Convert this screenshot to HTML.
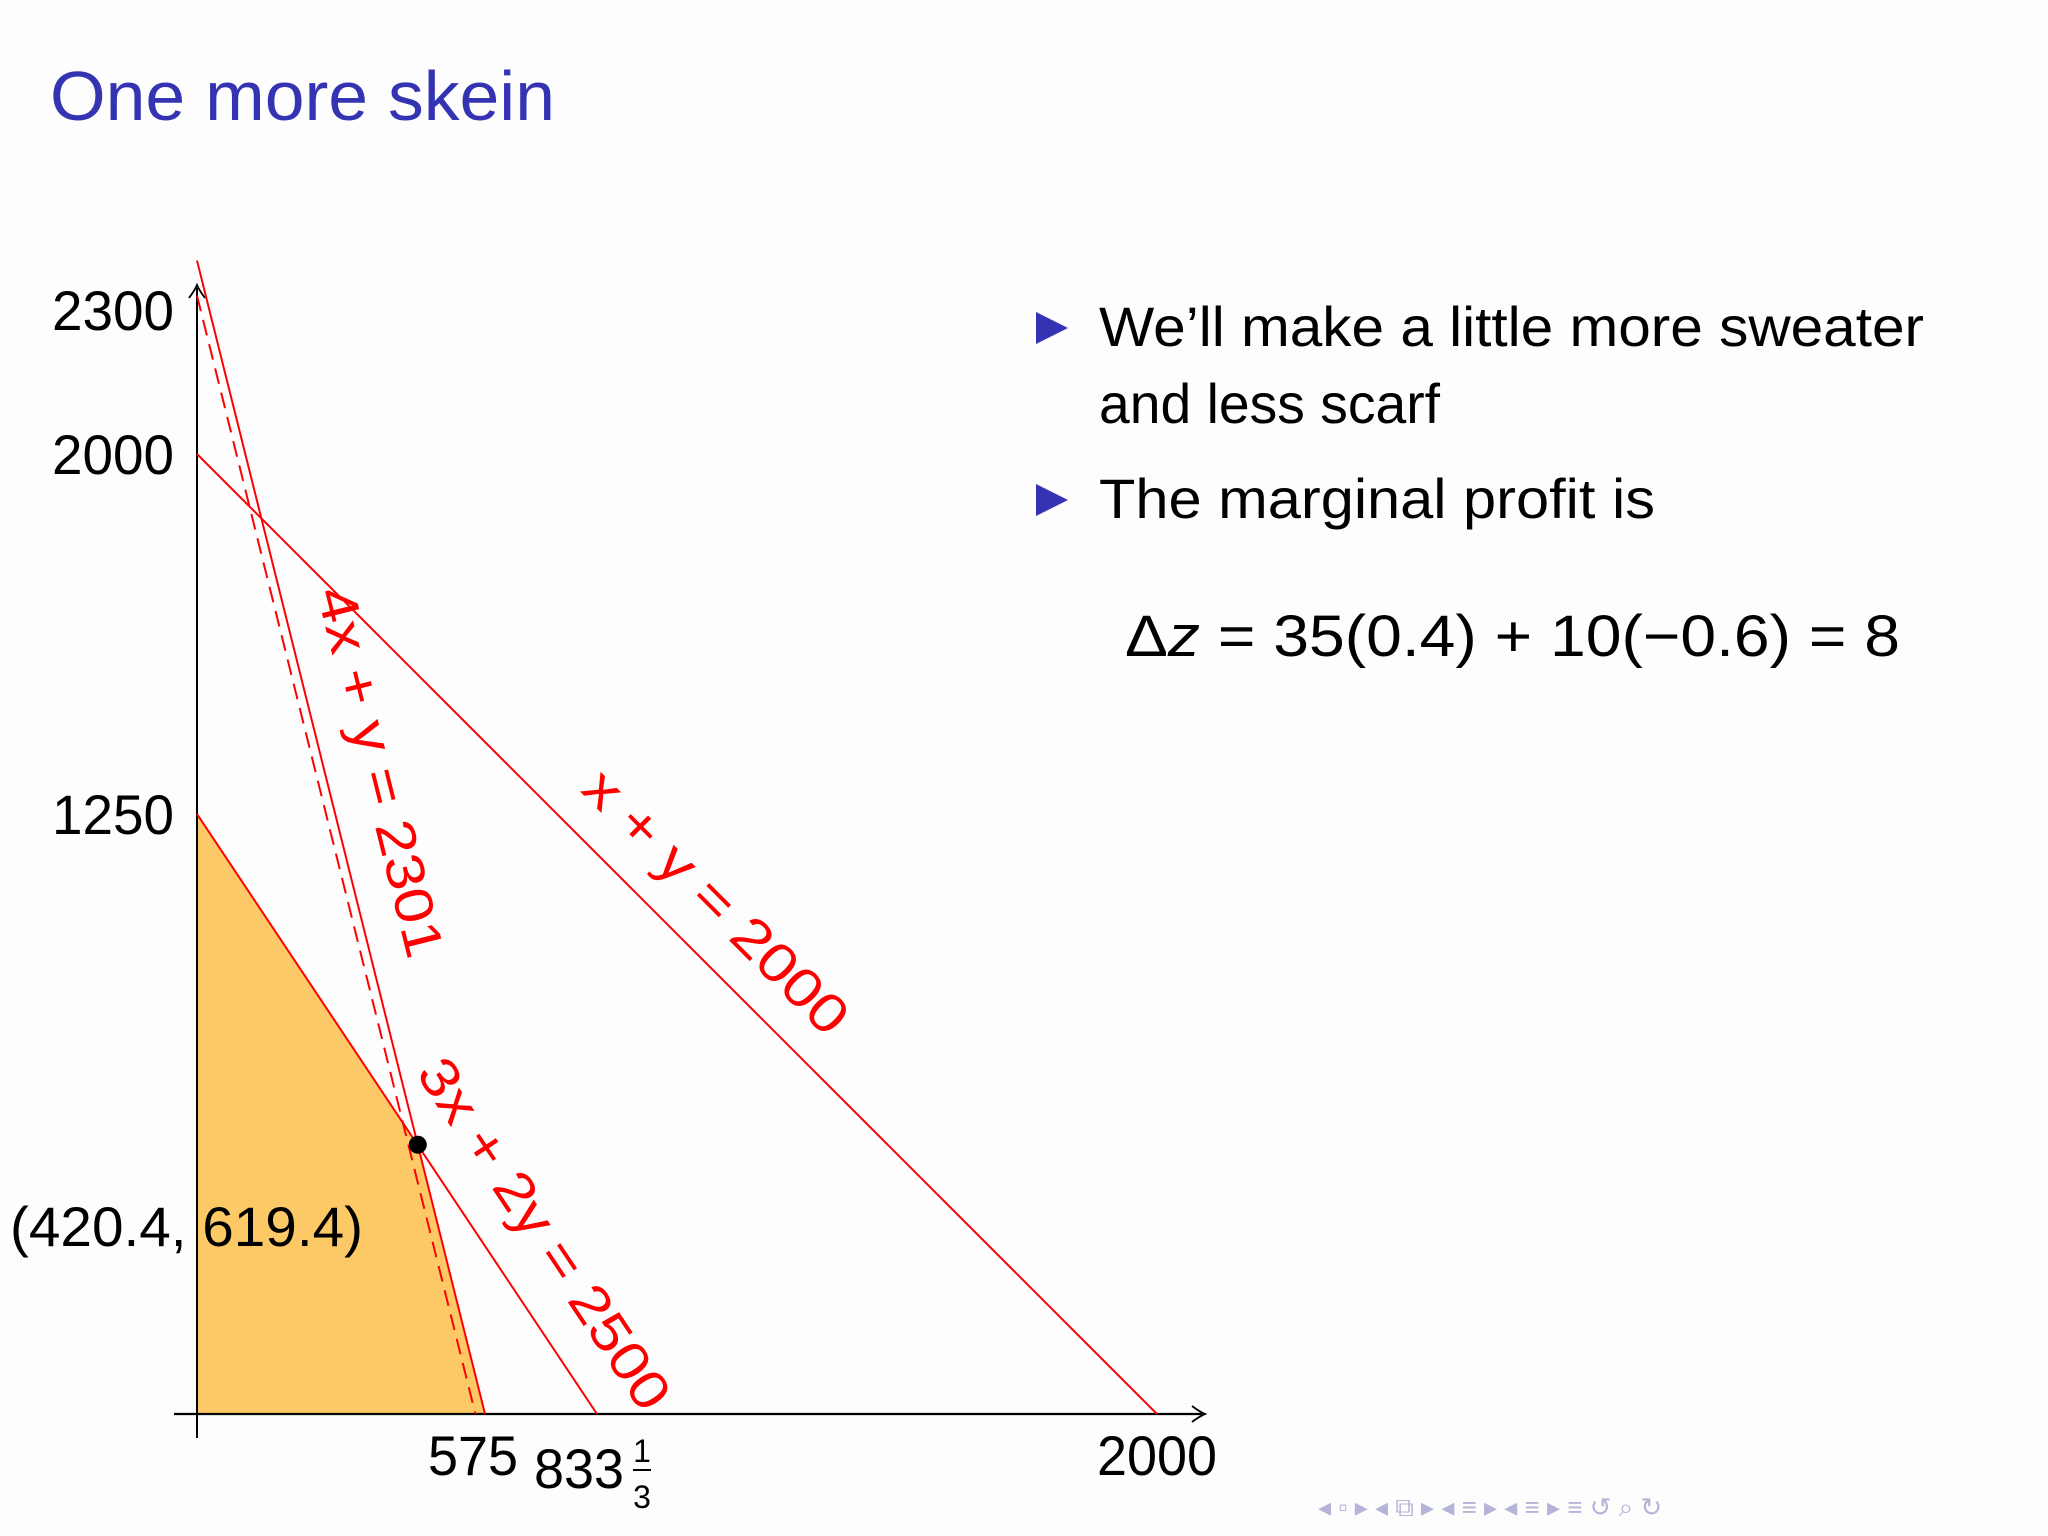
<!DOCTYPE html>
<html><head><meta charset="utf-8"><style>
html,body{margin:0;padding:0;background:#fdfdfe;}
svg{display:block;}
text{font-family:"Liberation Sans","DejaVu Sans",sans-serif;}
</style></head><body>
<svg id="chart" width="2048" height="1536" viewBox="0 0 2048 1536" xmlns="http://www.w3.org/2000/svg">
<text x="50" y="120" font-size="70" fill="#3434b2" textLength="505" lengthAdjust="spacingAndGlyphs">One more skein</text>
<g id="plot"></g>
<g>
<polygon points="1036,312 1068,328 1036,344" fill="#3434b2"/>
<text x="1099" y="346" font-size="56" fill="#000" textLength="825" lengthAdjust="spacingAndGlyphs">We’ll make a little more sweater</text>
<text x="1099" y="423" font-size="56" fill="#000" textLength="341" lengthAdjust="spacingAndGlyphs">and less scarf</text>
<polygon points="1036,484 1068,500 1036,516" fill="#3434b2"/>
<text x="1099" y="518" font-size="56" fill="#000" textLength="556" lengthAdjust="spacingAndGlyphs">The marginal profit is</text>
<text x="1125" y="656" font-size="58" fill="#000" textLength="775" lengthAdjust="spacingAndGlyphs">Δ<tspan font-style="italic">z</tspan> = 35(0.4) + 10(−0.6) = 8</text>
</g>
<g fill="#b4b4d8" font-size="26">
<text x="1318" y="1516">◂ ▫ ▸  ◂ ⧉ ▸  ◂ ≡ ▸  ◂ ≡ ▸   ≡   ↺ ⌕ ↻</text>
</g>
</svg>
<script>
// axis data
const xTicks = [575, 833.33, 2000];
const xTickLabels = ["575", "833", "2000"];
const yTicks = [2300, 2000, 1250];
const yTickLabels = ["2300", "2000", "1250"];
// constraint lines: [x1,y1,x2,y2] in data units
const lineXY = [0, 2000, 2000, 0];
const line3x2y = [0, 1250, 833.33, 0];
const line4x = [0, 2403, 600, 0];
const lineDashed = [0, 2330, 580, 0];
// feasible region vertices
const regionX = [0, 0, 460, 600];
const regionY = [0, 1250, 561, 0];
const optimum = [460, 561];
const optimumLabel = "(420.4, 619.4)";

const X0 = 197, Y0 = 1414, S = 0.48;
const sx = v => X0 + v * S;
const sy = v => Y0 - v * S;
const NS = "http://www.w3.org/2000/svg";
const plot = document.getElementById('plot');
function mk(tag, attrs, parent) {
  const e = document.createElementNS(NS, tag);
  for (const k in attrs) e.setAttribute(k, attrs[k]);
  (parent || plot).appendChild(e);
  return e;
}
// region
const poly = mk('polygon', {points: regionX.map((x, i) => sx(x) + ',' + sy(regionY[i])).join(' '), fill: '#fdc966'});


// axes
const xa = mk('line', {x1: 174, y1: Y0, x2: 1202, y2: Y0, stroke: '#000', 'stroke-width': 2.2});


const xah = mk('path', {d: 'M1192,1406 Q1200,1412 1205,1414 Q1200,1416 1192,1422', fill: 'none', stroke: '#000', 'stroke-width': 1.8});


const ya = mk('line', {x1: X0, y1: 1438, x2: X0, y2: 288, stroke: '#000', 'stroke-width': 2});


const yah = mk('path', {d: 'M189,298 Q195,290 197,285 Q199,290 205,298', fill: 'none', stroke: '#000', 'stroke-width': 1.8});


// lines
function drawLine(a, name, dashed) {
  const l = mk('line', {x1: sx(a[0]), y1: sy(a[1]), x2: sx(a[2]), y2: sy(a[3]), stroke: '#f00', 'stroke-width': 2});
  if (dashed) l.setAttribute('stroke-dasharray', '16,9');
  
  
}
drawLine(lineXY, 'line-x-plus-y-2000', false);
drawLine(line3x2y, 'line-3x-plus-2y-2500', false);
drawLine(line4x, 'line-4x-plus-y-2301', false);
drawLine(lineDashed, 'line-4x-plus-y-2300-dashed', true);
// labels on lines
function lineLabel(txt, cx, cy, ang, w, name) {
  const t = mk('text', {x: cx, y: cy, 'font-size': 54, fill: '#f00', 'text-anchor': 'middle', 'dominant-baseline': 'central', transform: `rotate(${ang} ${cx} ${cy})`, textLength: w, lengthAdjust: 'spacingAndGlyphs'});
  t.textContent = txt;
  
  
}
lineLabel('4x + y = 2301', 380, 772, 76, 380, 'label-4x-plus-y');
lineLabel('x + y = 2000', 716, 902, 45, 350, 'label-x-plus-y');
lineLabel('3x + 2y = 2500', 544, 1234, 56.3, 410, 'label-3x-plus-2y');
// optimum point
const pt = mk('circle', {cx: sx(optimum[0]), cy: sy(optimum[1]), r: 9, fill: '#000'});


const pl = mk('text', {x: 10, y: 1246, 'font-size': 56, fill: '#000', textLength: 353, lengthAdjust: 'spacingAndGlyphs'});
pl.textContent = optimumLabel;


// y ticks
yTicks.forEach((v, i) => {
  const t = mk('text', {x: 174, y: sy(v) + 20, 'font-size': 56, 'text-anchor': 'end', fill: '#000', textLength: 122, lengthAdjust: 'spacingAndGlyphs'});
  t.textContent = yTickLabels[i];
  
  
});
// x ticks
xTicks.forEach((v, i) => {
  const w = xTickLabels[i].length * 30;
  const cx = i === 1 ? sx(v) - 18 : sx(v);
  const t = mk('text', {x: cx, y: 1475, 'font-size': 56, 'text-anchor': 'middle', fill: '#000', textLength: w, lengthAdjust: 'spacingAndGlyphs'});
  t.textContent = xTickLabels[i];
  if (i === 1) t.setAttribute('y', 1488);
  
  
  if (i === 1) {
    const f1 = mk('text', {x: sx(v) + 45, y: 1462, 'font-size': 32, 'text-anchor': 'middle', fill: '#000'});
    f1.textContent = '1';
    
    
    const fl = mk('line', {x1: sx(v) + 36, y1: 1470, x2: sx(v) + 54, y2: 1470, stroke: '#000', 'stroke-width': 2});
    
    
    const f2 = mk('text', {x: sx(v) + 45, y: 1508, 'font-size': 32, 'text-anchor': 'middle', fill: '#000'});
    f2.textContent = '3';
    
    
  }
});
</script>
</body></html>
